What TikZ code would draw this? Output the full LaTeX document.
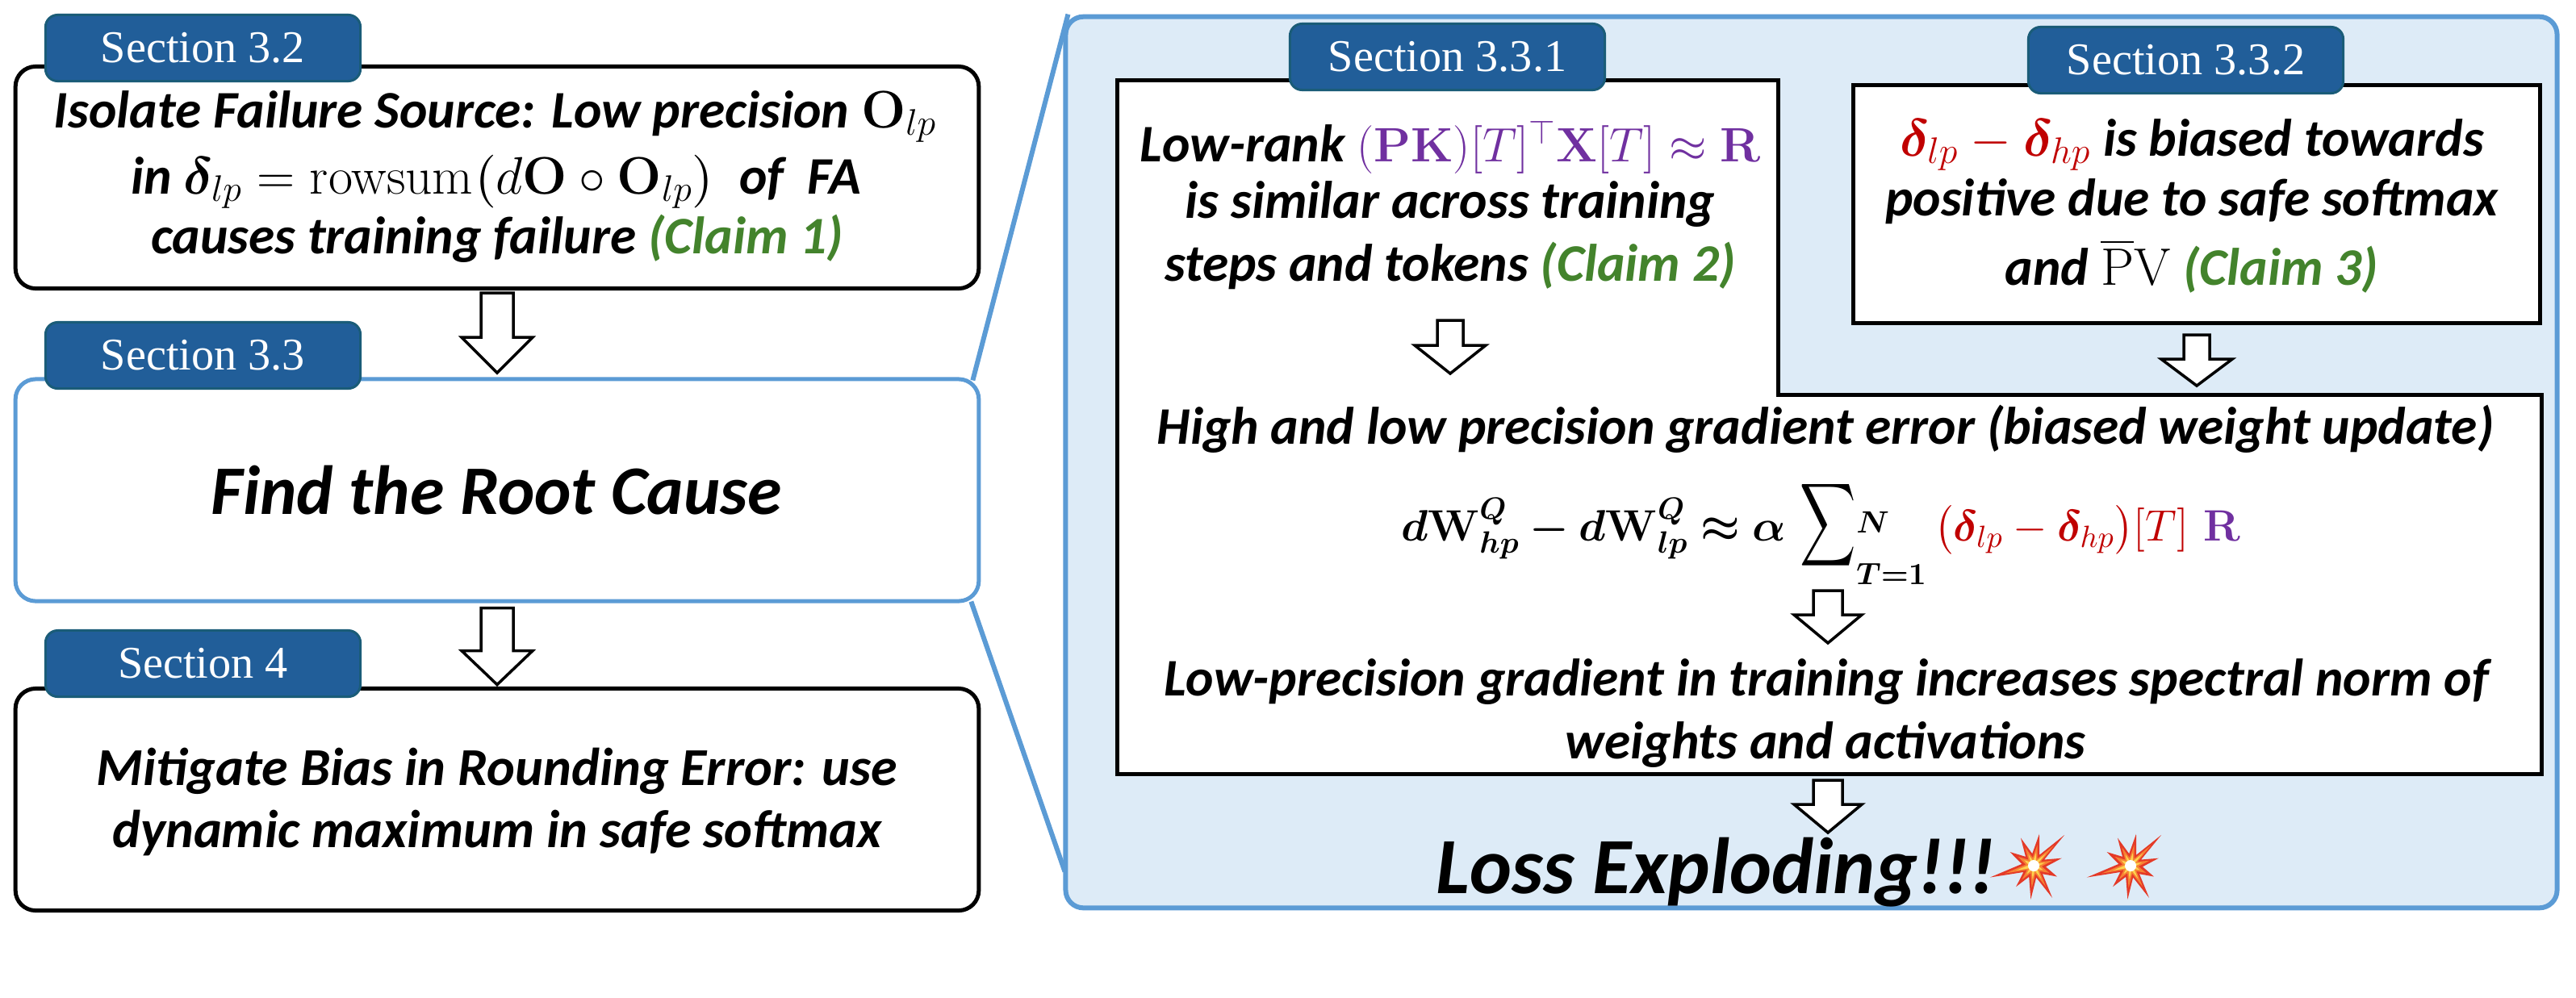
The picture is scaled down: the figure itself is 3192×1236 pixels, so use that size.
\RequirePackage{fix-cm}
\documentclass[tikz,border=0pt]{standalone}
\usepackage{amsmath}
\usepackage{bm}
\usepackage{graphicx}
\usepackage[no-math]{fontspec}
\setmainfont{Carlito}
\newfontfamily\tabfont{Liberation Serif}
\usetikzlibrary{calc}
\definecolor{tabfill}{RGB}{33,94,153}
\definecolor{tabedge}{RGB}{26,92,120}
\definecolor{zblue}{RGB}{91,155,213}
\definecolor{pfill}{RGB}{221,235,247}
\definecolor{cgreen}{RGB}{67,131,44}
\definecolor{dred}{RGB}{192,0,0}
\definecolor{purp}{RGB}{112,48,160}
\definecolor{boomred}{RGB}{228,58,40}
\definecolor{boomorange}{RGB}{246,130,52}
\definecolor{boomyellow}{RGB}{253,212,80}
\newcommand{\bodyfont}{\fontsize{18.6}{22}\selectfont\bfseries\itshape}
\newcommand{\bigsum}{\mathop{\scalebox{0.95}[1.42]{$\displaystyle\sum$}}}
\newcommand{\lpar}{\mathopen{\scalebox{1}[0.9]{$\big($}}}
\newcommand{\rpar}{\mathclose{\scalebox{1}[0.9]{$\big)$}}}
\newcommand{\gradeq}{\mbox{$\bm{d\mathbf{W}^{Q}_{hp}-d\mathbf{W}^{Q}_{lp}\approx\alpha}\,\bigsum\nolimits_{\raisebox{-4pt}[0pt][0pt]{$\scriptstyle\bm{T=1}$}}^{\raisebox{-15pt}[0pt][0pt]{$\scriptstyle\bm{N}$}}\textcolor{dred}{\big(\bm{\delta}_{lp}-\bm{\delta}_{hp}\big)[T]}\,\,\textcolor{purp}{\mathbf{R}}$}}
\tikzset{
  arrline/.style={draw=black, fill=white, line width=0.035cm, line join=miter},
  pics/downarr/.style args={#1/#2/#3/#4}{code={
    \draw[arrline] (-#2,0) -- (#2,0) -- (#2,#1-#3) -- (#4,#1-#3) -- (0,#1)
      -- (-#4,#1-#3) -- (-#2,#1-#3) -- cycle;}},
  pics/boom/.style={code={
    \foreach \c/\s in {boomred/1, boomorange/0.66, boomyellow/0.4}{
      \fill[\c, scale=\s] (-15:36) -- (-30:15) -- (-45:54) -- (-62:15) -- (-80:40)
        -- (-97:15) -- (-115:38) -- (-132:15) -- (-150:34) -- (-172:15)
        -- (-195:56) -- (-212:15) -- (-230:34) -- (-247:15) -- (-265:42)
        -- (-282:15) -- (-300:46) -- (-317:15) -- (-335:32) -- (-355:15) -- cycle;}
    \fill[white] (0,0) circle (0.07cm);}}
}
\begin{document}
\begin{tikzpicture}[x=0.01cm, y=-0.01cm,
  tabsty/.style={draw=tabedge, line width=0.03cm, fill=tabfill, rounded corners=0.15cm,
    minimum width=3.9cm, minimum height=0.82cm, text=white, inner sep=0pt,
    font=\tabfont\fontsize{16}{18}\selectfont},
  lbox/.style={draw=black, line width=0.05cm, rounded corners=0.25cm, fill=white,
    minimum width=11.93cm, minimum height=2.75cm, inner sep=0pt},
  sqbox/.style={draw=black, line width=0.05cm, fill=white, inner sep=0pt},
  zline/.style={draw=zblue, line width=0.06cm},
  ln/.style={font=\bodyfont, inner sep=0pt, anchor=base}
]
\useasboundingbox (0,0) rectangle (3192,1236);
\fill[white] (0,0) rectangle (3192,1236);

% left column
\node[lbox] (box1) at (616,220) {};
\node[lbox, draw=zblue] (box2) at (616,607.5) {};
\node[lbox] (box3) at (616,991) {};

\node[ln] (t11) at (614,158) {Isolate Failure Source: Low precision $\mathbf{O}_{lp}$};
\node[ln] (t12) at (615,240) {in $\boldsymbol{\delta}_{lp}=\mathrm{rowsum}\lpar d\mathbf{O}\circ\mathbf{O}_{lp}\rpar$ \ of \ FA};
\node[ln] (t13) at (616,314) {causes training failure \textcolor{cgreen}{(Claim 1)}};

\node[ln, font=\bfseries\itshape\fontsize{24.5}{28}\selectfont] (t2) at (615.5,637) {Find the Root Cause};

\node[ln, font=\bfseries\itshape\fontsize{18.8}{22}\selectfont] (t31) at (616,973) {Mitigate Bias in Rounding Error: use};
\node[ln, font=\bfseries\itshape\fontsize{18.8}{22}\selectfont] (t32) at (616,1050) {dynamic maximum in safe softmax};

\node[tabsty] (tab1) at (251.5,59.5) {Section 3.2};
\node[tabsty] (tab2) at (251.5,440.5) {Section 3.3};
\node[tabsty] (tab3) at (251.5,822.5) {Section 4};

\pic at ($(box1.south)+(0,3)$) {downarr=99/20/44/44};
\pic at ($(box2.south)+(0,6)$) {downarr=95/20/42/44};

% right panel
\node[draw=zblue, line width=0.06cm, fill=pfill, rounded corners=0.22cm,
  minimum width=18.47cm, minimum height=11.04cm, inner sep=0pt] (panel) at (2244.5,573) {};
\draw[zline] ($(box2.north east)+(-10,4)$) -- ($(panel.north west)+(6,0)$);
\draw[zline] ($(box2.south east)+(-12,-2)$) -- ($(panel.south west)+(2,-48)$);

% combined box (3.3.1 + gradient error)
\coordinate (pa) at (1384.5,99.5);
\coordinate (pb) at (2203.5,99.5);
\coordinate (pc) at (2203.5,489.5);
\coordinate (pd) at (3149.5,489.5);
\coordinate (pe) at (3149.5,959.5);
\coordinate (pf) at (1384.5,959.5);
\draw[line width=0.05cm, fill=white] (pa) -- (pb) -- (pc) -- (pd) -- (pe) -- (pf) -- cycle;

\node[sqbox, minimum width=8.51cm, minimum height=2.95cm] (boxB) at (2722,253) {};

\node[tabsty] (tab331) at (1793.5,70.5) {Section 3.3.1};
\node[tabsty] (tab332) at (2708.5,74.5) {Section 3.3.2};

\node[ln] (tA1) at (1797,200) {Low-rank {\fontsize{17}{20}\selectfont$\textcolor{purp}{(\mathbf{PK})[T]^{\top}\mathbf{X}[T]\approx\mathbf{R}}$}};
\node[ln] (tA2) at (1797,270) {is similar across training};
\node[ln] (tA3) at (1797,348) {steps and tokens \textcolor{cgreen}{(Claim 2)}};

\node[ln] (tB1) at (2716,193) {$\textcolor{dred}{\boldsymbol{\delta}_{lp}-\boldsymbol{\delta}_{hp}}$ is biased towards};
\node[ln] (tB2) at (2716,267) {positive due to safe softmax};
\node[ln] (tB3) at (2716,353) {and $\overline{\mathrm{P}}\mathrm{V}$ \textcolor{cgreen}{(Claim 3)}};

\pic at (1797,397) {downarr=66/16/35/44};
\pic at ($(boxB.south)+(0,12)$) {downarr=63/16/33/44};

\node[ln] (grad) at (2262,550) {High and low precision gradient error (biased weight update)};
\node[ln, font=\fontsize{15.5}{19}\selectfont] (eq) at (2256,670) {\gradeq};

\pic at (2265,732) {downarr=65/18/35/42};

\node[ln] (spec1) at (2263,862) {Low-precision gradient in training increases spectral norm of};
\node[ln] (spec2) at (2262,940) {weights and activations};

\pic at (2265,967) {downarr=65/18/35/42};

\node[ln, font=\bfseries\itshape\fontsize{28.1}{32}\selectfont] (loss) at (2126,1107) {Loss Exploding!!!};
\pic at (2520,1073) {boom};
\pic at (2640,1073) {boom};
\end{tikzpicture}
\end{document}
